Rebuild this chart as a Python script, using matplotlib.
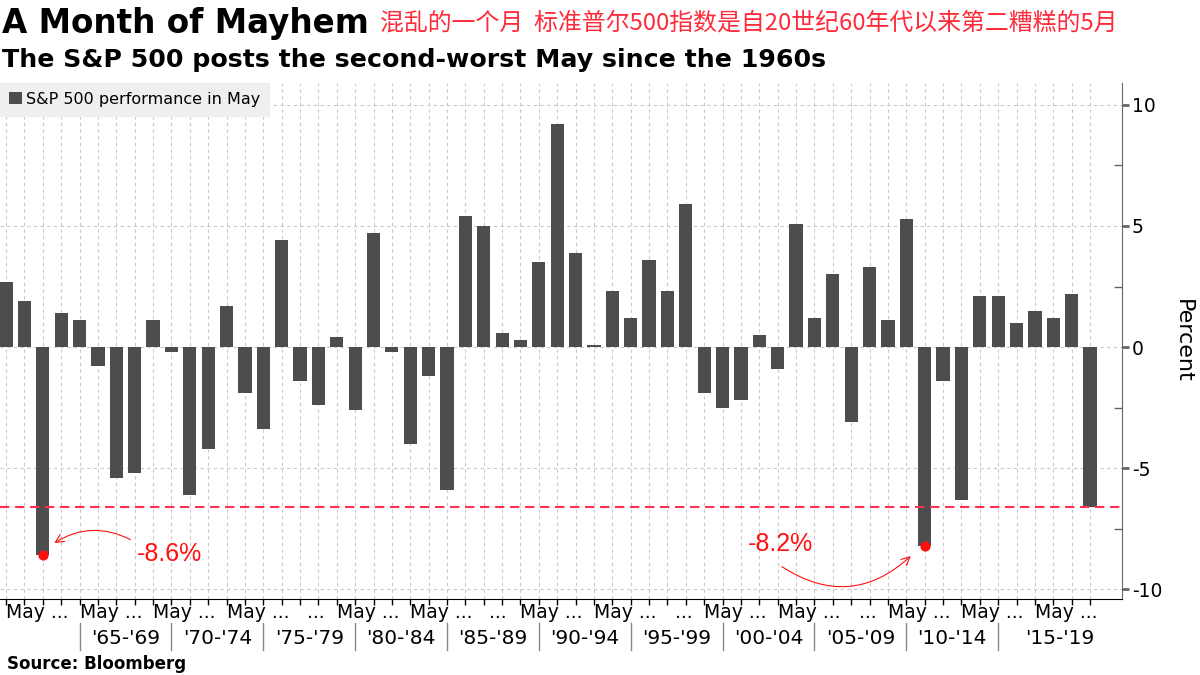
import numpy as np
import matplotlib.pyplot as plt
import matplotlib.transforms as mtransforms

# S&P 500 performance in May, 1960-2019 (percent)
years = list(range(1960, 2020))
may_returns = [2.7, 1.9, -8.6, 1.4, 1.1, -0.8, -5.4, -5.2, 1.1, -0.2,
               -6.1, -4.2, 1.7, -1.9, -3.4, 4.4, -1.4, -2.4, 0.4, -2.6,
               4.7, -0.2, -4.0, -1.2, -5.9, 5.4, 5.0, 0.6, 0.3, 3.5,
               9.2, 3.9, 0.1, 2.3, 1.2, 3.6, 2.3, 5.9, -1.9, -2.5,
               -2.2, 0.5, -0.9, 5.1, 1.2, 3.0, -3.1, 3.3, 1.1, 5.3,
               -8.2, -1.4, -6.3, 2.1, 2.1, 1.0, 1.5, 1.2, 2.2, -6.6]

# elided month labels as Bloomberg draws them
month_labels = ['May ...', 'May ...', 'May ...', 'May ...', '...', 'May ...', 'May ...',
                '...', 'May ...', 'May ...', '...', 'May ...', 'May ...', '...',
                'May ...', 'May ...', 'May ...']
month_label_idx = [0, 4, 8, 12, 16.4, 18, 22, 26.3, 28, 32, 36.4, 38, 42, 46.4, 48, 52, 56]
group_labels = ["'65-'69", "'70-'74", "'75-'79", "'80-'84", "'85-'89", "'90-'94",
                "'95-'99", "'00-'04", "'05-'09", "'10-'14", "'15-'19"]
highlight_years = [1962, 2010]

BAR = '#4d4d4d'
RED = '#ff3050'
GRID = '#c8c8c8'

plt.rcParams['font.family'] = ['DejaVu Sans']

fig = plt.figure(figsize=(12, 6.75), dpi=100)
ax = fig.add_axes([0.0, 0.1126, 0.935, 0.7644])

x = np.arange(len(years))
vals = np.array(may_returns)
ax.bar(x, vals, width=0.72, color=BAR, zorder=3, label='S&P 500 performance in May')

xmin, xmax = -0.33, 60.74
ax.set_xlim(xmin, xmax)
ax.set_ylim(-10.4, 10.9)

# right-hand y axis
ax.yaxis.tick_right()
ax.yaxis.set_label_position('right')
ax.set_yticks([-10, -5, 0, 5, 10])
ax.set_yticklabels(['-10', '-5', '0', '5', '10'])
ax.set_yticks(np.arange(-7.5, 10, 5), minor=True)
ax.tick_params(axis='y', which='major', direction='out', length=5, width=2,
               color='#666666', labelsize=13.5, pad=2)
ax.tick_params(axis='y', which='minor', direction='in', length=6, width=1, color='#666666')
ax.set_ylabel('Percent', fontsize=16, rotation=270, labelpad=22)

ax.set_xticks(x)
ax.set_xticklabels([])
ax.tick_params(axis='x', direction='out', length=4, width=1, color='black')

for s in ['left', 'top']:
    ax.spines[s].set_visible(False)
ax.spines['right'].set_color('#666666')
ax.spines['bottom'].set_color('black')

ax.grid(True, color=GRID, linestyle=(0, (3, 3)), linewidth=0.8, zorder=0)
ax.set_axisbelow(True)

# threshold line at this year's value
ax.axhline(vals[-1], color=RED, linestyle=(0, (4.5, 2.7)), linewidth=1.5, zorder=4)

# highlight worst Mays
hx = [years.index(y) for y in highlight_years]
hv = [may_returns[i] for i in hx]
ax.scatter(hx, hv, s=40, color='#ff1010', zorder=5, clip_on=False)

ax.annotate('', xy=(hx[0] + 0.5, hv[0] + 0.45), xytext=(hx[0] + 4.9, hv[0] + 0.6),
            arrowprops=dict(arrowstyle='->,head_length=0.6,head_width=0.3', color='#ff1010',
                            lw=0.8, connectionstyle='arc3,rad=0.3'), zorder=6)
ax.text(hx[0] + 5.1, hv[0] + 0.05, f'{hv[0]:.1f}%', color='#ff1010', fontsize=18,
        family='Liberation Sans', va='center', ha='left')

ax.annotate('', xy=(hx[1] - 0.65, hv[1] - 0.35), xytext=(hx[1] - 7.9, hv[1] - 0.8),
            arrowprops=dict(arrowstyle='->,head_length=0.6,head_width=0.3', color='#ff1010',
                            lw=0.8, connectionstyle='arc3,rad=0.4'), zorder=6)
ax.text(hx[1] - 9.6, hv[1] + 0.05, f'{hv[1]:.1f}%', color='#ff1010', fontsize=18,
        family='Liberation Sans', va='center', ha='left')

# legend box
leg = ax.legend(loc='upper left', bbox_to_anchor=(0.0, 1.0), frameon=True, fontsize=11.5,
                handlelength=0.8, handleheight=0.8, handletextpad=0.3, borderpad=0.55,
                borderaxespad=0.0, fancybox=False)
leg.get_frame().set_facecolor('#efefef')
leg.get_frame().set_edgecolor('#efefef')
leg.get_frame().set_alpha(1)

# custom two-row x axis labels
trans = mtransforms.blended_transform_factory(ax.transData, fig.transFigure)
for lab, pos in zip(month_labels, month_label_idx):
    ax.text(pos, 1 - 613 / 675, lab, transform=trans, ha='left', va='center', fontsize=13.5)

seps = [4 + 5 * k for k in range(len(group_labels))]
for s in seps:
    ax.plot([s, s], [1 - 623 / 675, 1 - 650 / 675], transform=trans, color='#888888',
            lw=1, clip_on=False)
bounds = seps + [xmax]
for k, lab in enumerate(group_labels):
    c = (bounds[k] + bounds[k + 1]) / 2
    ax.text(c, 1 - 638 / 675, lab, transform=trans, ha='center', va='center', fontsize=14.5)

# titles
fig.text(0.002, 1 - 23 / 675, 'A Month of Mayhem', fontsize=23.5, fontweight='bold',
         va='center', ha='left')
fig.text(380 / 1200, 1 - 23 / 675, '混乱的一个月  标准普尔500指数是自20世纪60年代以来第二糟糕的5月',
         fontsize=17.2, color='#ff2a3a', va='center', ha='left',
         family=['Noto Sans CJK SC', 'DejaVu Sans'])
fig.text(0.002, 1 - 60 / 675, 'The S&P 500 posts the second-worst May since the 1960s',
         fontsize=18.2, fontweight='bold', va='center', ha='left')
fig.text(0.006, 1 - 664 / 675, 'Source: Bloomberg', fontsize=12, fontweight='bold',
         va='center', ha='left')

fig.savefig('out.png', dpi=100)
